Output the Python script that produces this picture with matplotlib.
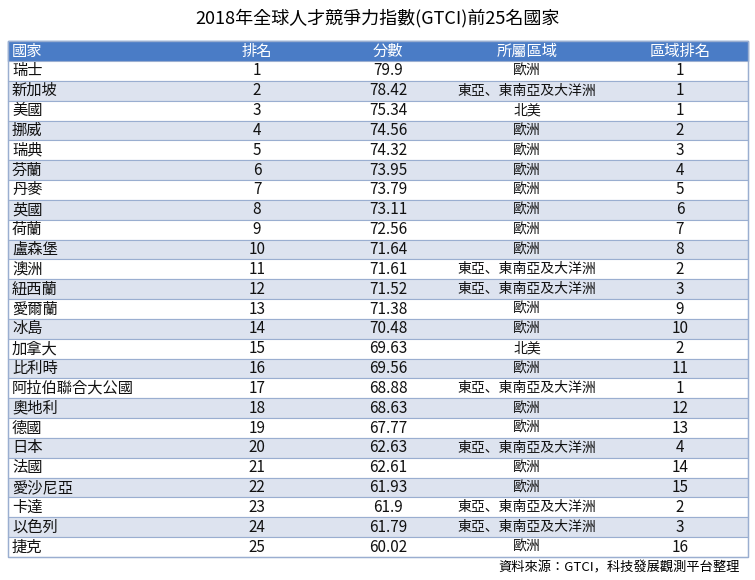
import matplotlib.pyplot as plt
from matplotlib.patches import Rectangle

plt.rcParams['font.family'] = ['Noto Sans CJK TC', 'Noto Sans CJK JP', 'Noto Sans CJK SC',
                               'Noto Sans CJK KR', 'DejaVu Sans']

title = '2018年全球人才競爭力指數(GTCI)前25名國家'
headers = ['國家', '排名', '分數', '所屬區域', '區域排名']
countries = ['瑞士', '新加坡', '美國', '挪威', '瑞典', '芬蘭', '丹麥', '英國', '荷蘭', '盧森堡',
             '澳洲', '紐西蘭', '愛爾蘭', '冰島', '加拿大', '比利時', '阿拉伯聯合大公國', '奧地利',
             '德國', '日本', '法國', '愛沙尼亞', '卡達', '以色列', '捷克']
ranks = list(range(1, 26))
scores = ['79.9', '78.42', '75.34', '74.56', '74.32', '73.95', '73.79', '73.11', '72.56', '71.64',
          '71.61', '71.52', '71.38', '70.48', '69.63', '69.56', '68.88', '68.63', '67.77', '62.63',
          '62.61', '61.93', '61.9', '61.79', '60.02']
EU = '歐洲'
AP = '東亞、東南亞及大洋洲'
NA = '北美'
regions = [EU, AP, NA, EU, EU, EU, EU, EU, EU, EU,
           AP, AP, EU, EU, NA, EU, AP, EU, EU, AP,
           EU, EU, AP, AP, EU]
region_ranks = [1, 1, 1, 2, 3, 4, 5, 6, 7, 8,
                2, 3, 9, 10, 2, 11, 1, 12, 13, 4,
                14, 15, 2, 3, 16]
source = '資料來源：GTCI，科技發展觀測平台整理'

W, H = 755, 580
fig = plt.figure(figsize=(W / 100, H / 100), dpi=100)
ax = fig.add_axes([0, 0, 1, 1])
ax.set_xlim(0, W)
ax.set_ylim(H, 0)
ax.axis('off')

left, right = 8, 748
top, head_h = 41, 20
row_h = (557 - 61) / 25
col_x = [12, 257, 388, 527, 680]
col_ha = ['left', 'center', 'center', 'center', 'center']
header_color = '#4a7cc6'
stripe = '#dde3ef'
edge = '#9aaed0'

ax.text(W / 2, 18, title, ha='center', va='center', fontsize=13)

ax.add_patch(Rectangle((left, top), right - left, head_h, facecolor=header_color, edgecolor=header_color))
for x, ha, h in zip(col_x, col_ha, headers):
    ax.text(x, top + head_h / 2, h, ha=ha, va='center', fontsize=11, color='white')

y0 = top + head_h
for i in range(len(countries)):
    y = y0 + i * row_h
    fc = 'white' if i % 2 == 0 else stripe
    ax.add_patch(Rectangle((left, y), right - left, row_h, facecolor=fc, edgecolor=edge, linewidth=0.8))
    vals = [countries[i], str(ranks[i]), scores[i], regions[i], str(region_ranks[i])]
    for j, (x, ha, v) in enumerate(zip(col_x, col_ha, vals)):
        fs = 10 if j == 3 else 11
        ax.text(x, y + row_h / 2, v, ha=ha, va='center', fontsize=fs, color='#111111')

ax.add_patch(Rectangle((left, top), right - left, y0 + 25 * row_h - top, fill=False, edgecolor=edge, linewidth=1))
ax.text(740, 568, source, ha='right', va='center', fontsize=9.5)

fig.savefig('out.png', dpi=100)
